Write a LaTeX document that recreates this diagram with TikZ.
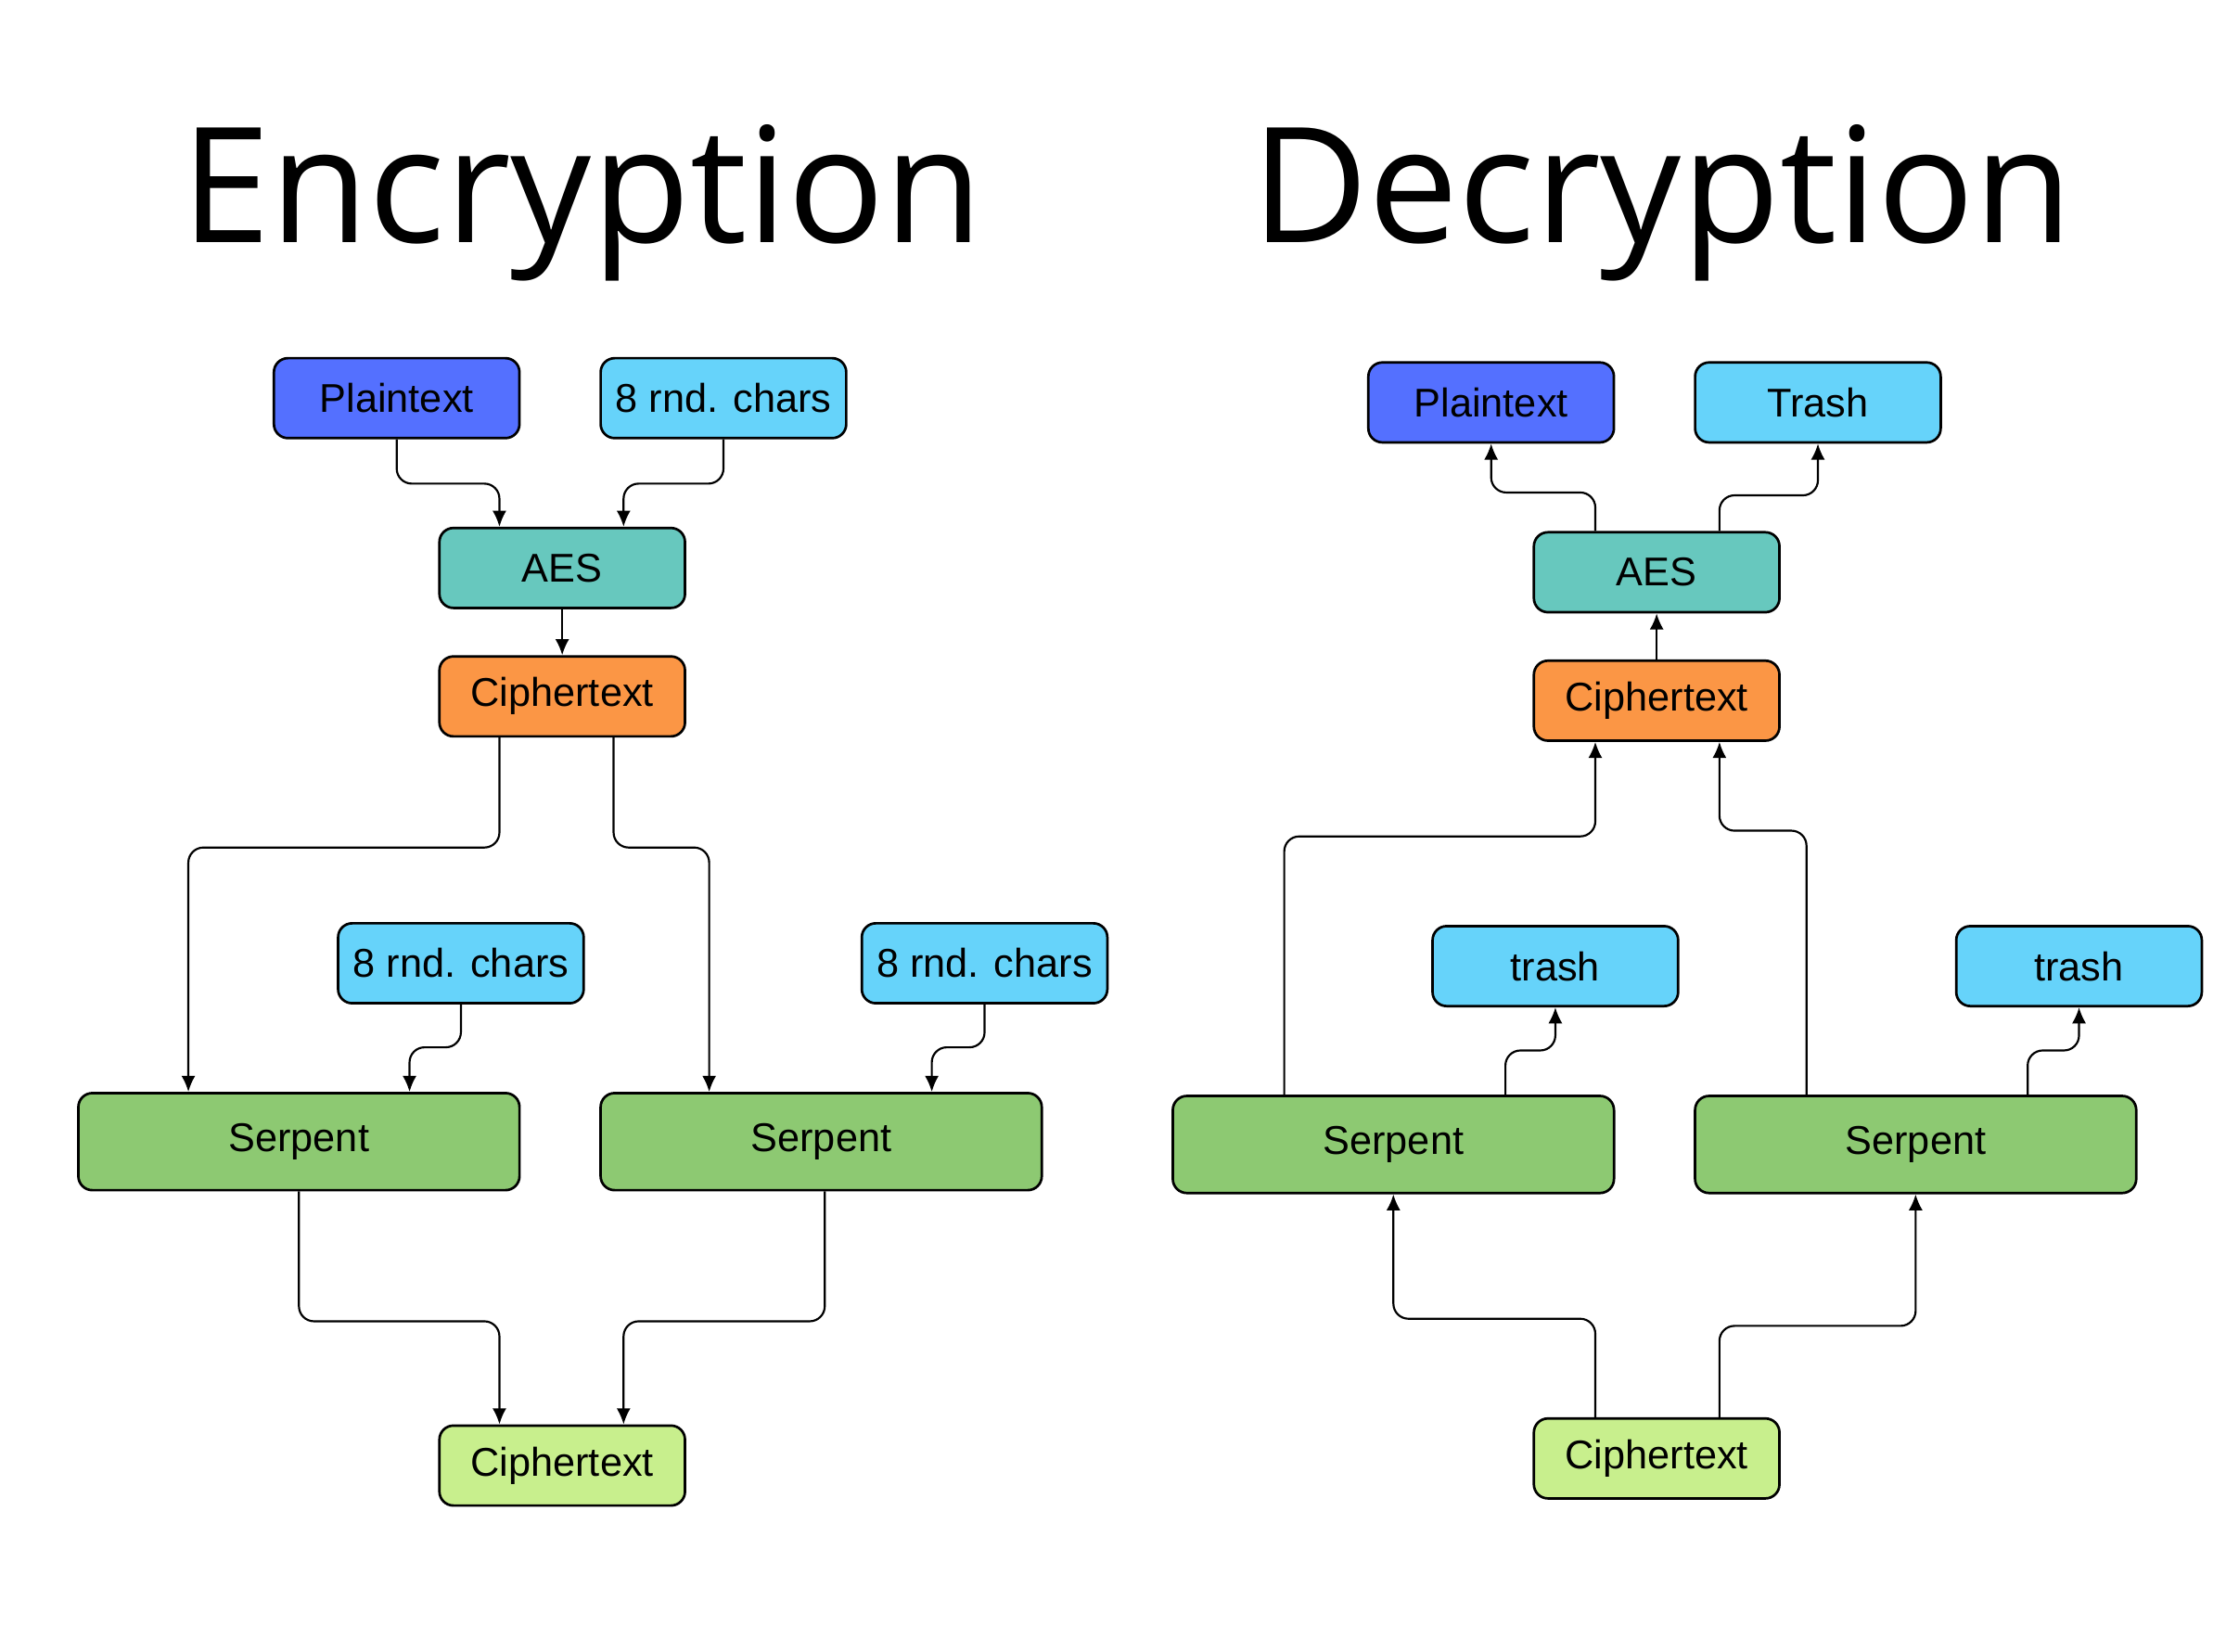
\documentclass[tikz,border=0pt]{standalone}
\usepackage{fontspec}
\setmainfont{Liberation Sans}
\newfontfamily\titlefont{Open Sans}
\usetikzlibrary{arrows.meta,calc}
\definecolor{cblue}{HTML}{5470FF}
\definecolor{clight}{HTML}{66D3FA}
\definecolor{cteal}{HTML}{67C8BE}
\definecolor{corange}{HTML}{FB9645}
\definecolor{cgreen}{HTML}{8DC972}
\definecolor{clgreen}{HTML}{C8EF8D}
\begin{document}
\begin{tikzpicture}[x=0.01cm,y=-0.01cm,
  box/.style={draw=black,line width=0.5pt,rounded corners=2.8pt,minimum width=1.72cm,minimum height=0.56cm,inner sep=0pt,font=\fontsize{8}{9}\selectfont},
  wide/.style={box,minimum width=3.09cm,minimum height=0.68cm},
  arr/.style={-{Latex[length=3.2pt,width=2.8pt]},line width=0.4pt,rounded corners=3pt},
  ttl/.style={font=\titlefont\fontsize{32}{36}\selectfont}]
\useasboundingbox (0,0) rectangle (1560,1157);
\node[ttl] (t1) at (408,142) {Encryption};
\node[ttl] (t2) at (1165,142) {Decryption};
% Encryption
\node[box,fill=cblue] (P1) at (278,279) {Plaintext};
\node[box,fill=clight] (R1) at (507,279) {8 rnd. chars};
\node[box,fill=cteal] (A1) at (394,398) {AES};
\node[box,fill=corange] (C1) at (394,488) {Ciphertext};
\node[box,fill=clight] (R2) at (323,675) {8 rnd. chars};
\node[box,fill=clight] (R3) at (690,675) {8 rnd. chars};
\node[wide,fill=cgreen] (S1) at (209.5,800) {Serpent};
\node[wide,fill=cgreen] (S2) at (575.5,800) {Serpent};
\node[box,fill=clgreen] (E1) at (394,1027) {Ciphertext};
\draw[arr] (P1.south) -- ++(0,31) -| ($(A1.north)+(-44,0)$);
\draw[arr] (R1.south) -- ++(0,31) -| ($(A1.north)+(43,0)$);
\draw[arr] (A1) -- (C1);
\draw[arr] ($(C1.south)+(-44,0)$) -- ++(0,77) -| ($(S1.north)+(-77.5,0)$);
\draw[arr] ($(C1.south)+(36,0)$) -- ++(0,77) -| ($(S2.north)+(-78.5,0)$);
\draw[arr] (R2.south) -- ++(0,30) -| ($(S1.north)+(77.5,0)$);
\draw[arr] (R3.south) -- ++(0,30) -| ($(S2.north)+(77.5,0)$);
\draw[arr] (S1.south) -- ++(0,91) -| ($(E1.north)+(-44,0)$);
\draw[arr] ($(S2.south)+(2.5,0)$) -- ++(0,91) -| ($(E1.north)+(43,0)$);
% Decryption
\node[box,fill=cblue] (P2) at (1045,282) {Plaintext};
\node[box,fill=clight] (T) at (1274,282) {Trash};
\node[box,fill=cteal] (A2) at (1161,401) {AES};
\node[box,fill=corange] (C2) at (1161,491) {Ciphertext};
\node[box,fill=clight] (T1) at (1090,677) {trash};
\node[box,fill=clight] (T2) at (1457,677) {trash};
\node[wide,fill=cgreen] (S3) at (976.5,802) {Serpent};
\node[wide,fill=cgreen] (S4) at (1342.5,802) {Serpent};
\node[box,fill=clgreen] (E2) at (1161,1022) {Ciphertext};
\draw[arr] ($(A2.north)+(-43,0)$) -- ++(0,-27) -| (P2.south);
\draw[arr] ($(A2.north)+(44,0)$) -- ++(0,-25) -| (T.south);
\draw[arr] (C2) -- (A2);
\draw[arr] ($(S3.north)+(-76.5,0)$) -- ++(0,-181) -| ($(C2.south)+(-43,0)$);
\draw[arr] ($(S4.north)+(-76.5,0)$) -- ++(0,-185) -| ($(C2.south)+(44,0)$);
\draw[arr] ($(S3.north)+(78.5,0)$) -- ++(0,-31) -| (T1.south);
\draw[arr] ($(S4.north)+(78.5,0)$) -- ++(0,-31) -| (T2.south);
\draw[arr] ($(E2.north)+(-43,0)$) -- ++(0,-69) -| (S3.south);
\draw[arr] ($(E2.north)+(44,0)$) -- ++(0,-64) -| (S4.south);
\end{tikzpicture}
\end{document}
